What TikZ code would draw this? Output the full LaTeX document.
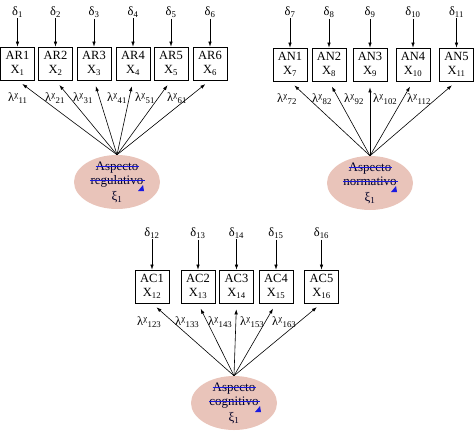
\documentclass[tikz,border=0pt]{standalone}
\usepackage{fontspec}
\setmainfont{Liberation Serif}
\usetikzlibrary{shapes.geometric,arrows.meta}
\definecolor{latfill}{RGB}{233,196,186}
\definecolor{strk}{RGB}{25,25,225}
\tikzset{
  obs/.style={draw, line width=0.7pt, rectangle, minimum width=34pt, minimum height=33pt, inner sep=0pt, align=center, font=\fontsize{12.5}{14}\selectfont},
  dlt/.style={inner sep=1pt, font=\fontsize{12.5}{14}\selectfont},
  lam/.style={inner sep=0pt, anchor=west, font=\fontsize{12.5}{14}\selectfont},
  lat/.style={ellipse, fill=latfill, minimum width=86pt, minimum height=54pt, inner sep=0pt},
  lattxt/.style={inner sep=0pt, font=\fontsize{13}{15}\selectfont, text=black!85!blue},
  strike/.style={draw=strk, line width=1pt},
  arr/.style={-{Latex[length=5pt,width=3.5pt]}, line width=0.6pt},
  load/.style={arr, shorten >=6pt}
}
\newcommand\mylatent[3]{%
  \node[lat] (#1) at #2 {};
  \node[lattxt, anchor=base] (#1a) at ([yshift=12pt]#1.center) {Aspecto};
  \node[lattxt, anchor=base] (#1b) at ([yshift=-2pt]#1.center) {#3};
  \node[lattxt] (#1c) at ([yshift=-15pt]#1.center) {ξ\textsubscript{1}};
  \path[strike] ([yshift=3.6pt]#1a.base west) -- ([yshift=3.6pt]#1a.base east);
  \path[strike] ([yshift=3.6pt]#1b.base west) -- ([yshift=3.6pt,xshift=1pt]#1b.base east);
  \fill[strk] ([xshift=21pt,yshift=-9pt]#1.center) -- ([xshift=27pt,yshift=-9pt]#1.center) -- ([xshift=26pt,yshift=-3pt]#1.center) -- cycle;
}
\begin{document}
\begin{tikzpicture}[x=1pt,y=-1pt]
\useasboundingbox (0,0) rectangle (474,432);
% ---------- top-left: regulativo ----------
\mylatent{LR}{(117,182)}{regulativo}
\foreach \i/\x in {1/17.5,2/55.5,3/94,4/133,5/171,6/210} {
  \node[obs] (AR\i) at (\x,63.5) {AR\i\\X\textsubscript{\i}};
  \node[dlt] (dR\i) at (\x,12) {δ\textsubscript{\i}};
  \draw[arr] (dR\i) -- (AR\i);
  \draw[load] (LR.north) -- (AR\i.south);
}
\foreach \n/\x in {11/8,21/45,31/73,41/107,51/135,61/167}
  \node[lam] (lR\n) at (\x,98) {λ\textsuperscript{χ}\textsubscript{\n}};
% ---------- top-right: normativo ----------
\mylatent{LN}{(370,183)}{normativo}
\foreach \j/\i/\x in {1/7/290,2/8/329,3/9/370,4/10/413,5/11/456.5} {
  \node[obs] (AN\j) at (\x,64.5) {AN\j\\X\textsubscript{\i}};
  \node[dlt] (dN\j) at (\x,12) {δ\textsubscript{\i}};
  \draw[arr] (dN\j) -- (AN\j);
  \draw[load] (LN.north) -- (AN\j.south);
}
\foreach \n/\x in {72/277,82/312,92/344,102/373,112/407}
  \node[lam] (lN\n) at (\x,99) {λ\textsuperscript{χ}\textsubscript{\n}};
% ---------- bottom: cognitivo ----------
\mylatent{LC}{(234,403)}{cognitivo}
\foreach \j/\i/\x in {1/12/152,2/13/198,3/14/236.5,4/15/276,5/16/321.5} {
  \node[obs] (AC\j) at (\x,286.5) {AC\j\\X\textsubscript{\i}};
  \node[dlt] (dC\j) at (\x,233) {δ\textsubscript{\i}};
  \draw[arr] (dC\j) -- (AC\j);
  \draw[load] (LC.north) -- (AC\j.south);
}
\foreach \n/\x in {123/137,133/175,143/208,153/240,163/272}
  \node[lam] (lC\n) at (\x,322) {λ\textsuperscript{χ}\textsubscript{\n}};
\end{tikzpicture}
\end{document}
